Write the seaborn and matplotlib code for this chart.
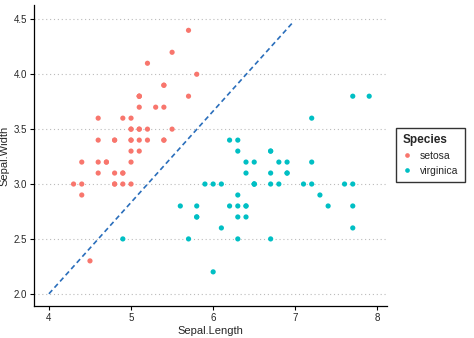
import matplotlib
matplotlib.use("Agg")
import matplotlib.pyplot as plt
import seaborn as sns
import pandas as pd

setosa_length = [5.1,4.9,4.7,4.6,5.0,5.4,4.6,5.0,4.4,4.9,5.4,4.8,4.8,4.3,5.8,5.7,5.4,5.1,5.7,5.1,
                 5.4,5.1,4.6,5.1,4.8,5.0,5.0,5.2,5.2,4.7,4.8,5.4,5.2,5.5,4.9,5.0,5.5,4.9,4.4,5.1,
                 5.0,4.5,4.4,5.0,5.1,4.8,5.1,4.6,5.3,5.0]
setosa_width = [3.5,3.0,3.2,3.1,3.6,3.9,3.4,3.4,2.9,3.1,3.7,3.4,3.0,3.0,4.0,4.4,3.9,3.5,3.8,3.8,
                3.4,3.7,3.6,3.3,3.4,3.0,3.4,3.5,3.4,3.2,3.1,3.4,4.1,4.2,3.1,3.2,3.5,3.6,3.0,3.4,
                3.5,2.3,3.2,3.5,3.8,3.0,3.8,3.2,3.7,3.3]
virginica_length = [6.3,5.8,7.1,6.3,6.5,7.6,4.9,7.3,6.7,7.2,6.5,6.4,6.8,5.7,5.8,6.4,6.5,7.7,7.7,6.0,
                    6.9,5.6,7.7,6.3,6.7,7.2,6.2,6.1,6.4,7.2,7.4,7.9,6.4,6.3,6.1,7.7,6.3,6.4,6.0,6.9,
                    6.7,6.9,5.8,6.8,6.7,6.7,6.3,6.5,6.2,5.9]
virginica_width = [3.3,2.7,3.0,2.9,3.0,3.0,2.5,2.9,2.5,3.6,3.2,2.7,3.0,2.5,2.8,3.2,3.0,3.8,2.6,2.2,
                   3.2,2.8,2.8,2.7,3.3,3.2,2.8,3.0,2.8,3.0,2.8,3.8,2.8,2.8,2.6,3.0,3.4,3.1,3.0,3.1,
                   3.1,3.1,2.7,3.2,3.3,3.0,2.5,3.0,3.4,3.0]
line_x = [4.0, 6.98]
line_y = [2.0, 4.48]
x_ticks = [4, 5, 6, 7, 8]
y_ticks = [2.0, 2.5, 3.0, 3.5, 4.0, 4.5]

df = pd.DataFrame({
    "Sepal.Length": setosa_length + virginica_length,
    "Sepal.Width": setosa_width + virginica_width,
    "Species": ["setosa"] * len(setosa_length) + ["virginica"] * len(virginica_length),
})

sns.set_style("white")
plt.rcParams['font.family'] = ['Liberation Sans', 'DejaVu Sans']

fig = plt.figure(figsize=(4.74, 3.38), dpi=100)
ax = fig.add_axes([0.072, 0.095, 0.745, 0.89])

ax.yaxis.grid(True, linestyle=(0, (1, 2.5)), color="#bbbbbb", linewidth=0.8)
ax.set_axisbelow(True)

sns.scatterplot(data=df, x="Sepal.Length", y="Sepal.Width", hue="Species",
                palette={"setosa": "#F8766D", "virginica": "#00BFC4"},
                s=14, linewidth=0, ax=ax, zorder=3)
sns.lineplot(x=line_x, y=line_y, ax=ax, color="#2A6EBB", linestyle=(0, (3, 2)),
             linewidth=1.2, zorder=2)

ax.set_xlim(3.82, 8.12)
ax.set_ylim(1.89, 4.63)
ax.set_xticks(x_ticks)
ax.set_xticklabels([str(t) for t in x_ticks])
ax.set_yticks(y_ticks)
ax.set_yticklabels([f"{t:.1f}" for t in y_ticks])
ax.tick_params(axis="both", labelsize=7, length=3, width=0.8, color="black",
               direction="out", bottom=True, left=True, pad=2)
for side in ["top", "right"]:
    ax.spines[side].set_visible(False)
for side in ["left", "bottom"]:
    ax.spines[side].set_color("black")
    ax.spines[side].set_linewidth(0.9)
ax.set_xlabel("Sepal.Length", fontsize=8, labelpad=2)
ax.set_ylabel("Sepal.Width", fontsize=8, labelpad=3)

leg = ax.legend(title="Species", loc="center left",
                bbox_to_anchor=(396 / 474, 1 - 155 / 338), bbox_transform=fig.transFigure,
                frameon=True, fontsize=7.5, title_fontproperties={"weight": "bold", "size": 8.5},
                markerscale=0.9, handlelength=1.0, handletextpad=0.7, borderpad=0.6,
                labelspacing=0.45, borderaxespad=0, fancybox=False)
leg.get_frame().set_edgecolor("black")
leg.get_frame().set_linewidth(1.0)
leg._legend_box.align = "left"

fig.savefig("out.png", dpi=100)
